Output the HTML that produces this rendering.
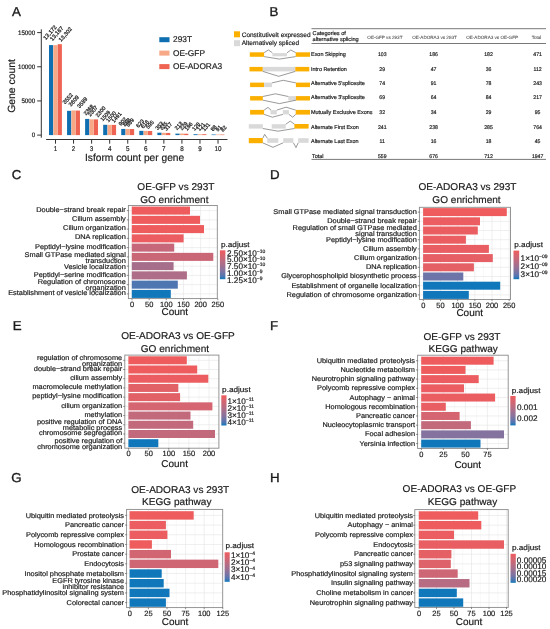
<!DOCTYPE html>
<html><head><meta charset="utf-8"><style>
html,body{margin:0;padding:0;background:#fff;}
svg{display:block;will-change:transform;}
text{font-family:"Liberation Sans", sans-serif;text-rendering:geometricPrecision;}
</style></head><body>
<svg width="550" height="629" viewBox="0 0 550 629" font-family='"Liberation Sans", sans-serif'>
<rect width="550" height="629" fill="#fff"/>
<text transform="translate(12.00,16.00) scale(1.03,1)" font-size="12.9" text-anchor="start" fill="#1a1a1a" stroke="#1a1a1a" stroke-width="0.35">A</text>
<text transform="translate(269.50,16.00) scale(1.03,1)" font-size="12.9" text-anchor="start" fill="#1a1a1a" stroke="#1a1a1a" stroke-width="0.35">B</text>
<text transform="translate(11.80,179.10) scale(1.03,1)" font-size="12.9" text-anchor="start" fill="#1a1a1a" stroke="#1a1a1a" stroke-width="0.35">C</text>
<text transform="translate(270.00,179.10) scale(1.03,1)" font-size="12.9" text-anchor="start" fill="#1a1a1a" stroke="#1a1a1a" stroke-width="0.35">D</text>
<text transform="translate(12.70,330.40) scale(1.03,1)" font-size="12.9" text-anchor="start" fill="#1a1a1a" stroke="#1a1a1a" stroke-width="0.35">E</text>
<text transform="translate(270.00,330.40) scale(1.03,1)" font-size="12.9" text-anchor="start" fill="#1a1a1a" stroke="#1a1a1a" stroke-width="0.35">F</text>
<text transform="translate(11.30,482.00) scale(1.03,1)" font-size="12.9" text-anchor="start" fill="#1a1a1a" stroke="#1a1a1a" stroke-width="0.35">G</text>
<text transform="translate(270.00,481.70) scale(1.03,1)" font-size="12.9" text-anchor="start" fill="#1a1a1a" stroke="#1a1a1a" stroke-width="0.35">H</text>
<line x1="41.30" y1="29.30" x2="41.30" y2="137.70" stroke="#333" stroke-width="1.0"/>
<line x1="37.20" y1="135.10" x2="41.30" y2="135.10" stroke="#333" stroke-width="1.0"/>
<text transform="translate(35.20,137.40) scale(0.97,1)" font-size="6.4" text-anchor="end" fill="#1a1a1a" stroke="#1a1a1a" stroke-width="0.18">0</text>
<line x1="37.20" y1="100.93" x2="41.30" y2="100.93" stroke="#333" stroke-width="1.0"/>
<text transform="translate(35.20,103.23) scale(0.97,1)" font-size="6.4" text-anchor="end" fill="#1a1a1a" stroke="#1a1a1a" stroke-width="0.18">5000</text>
<line x1="37.20" y1="66.77" x2="41.30" y2="66.77" stroke="#333" stroke-width="1.0"/>
<text transform="translate(35.20,69.07) scale(0.97,1)" font-size="6.4" text-anchor="end" fill="#1a1a1a" stroke="#1a1a1a" stroke-width="0.18">10000</text>
<line x1="37.20" y1="32.60" x2="41.30" y2="32.60" stroke="#333" stroke-width="1.0"/>
<text transform="translate(35.20,34.90) scale(0.97,1)" font-size="6.4" text-anchor="end" fill="#1a1a1a" stroke="#1a1a1a" stroke-width="0.18">15000</text>
<text transform="translate(14.70,86.00) rotate(-90)" font-size="10.4" text-anchor="middle" fill="#1a1a1a" stroke="#1a1a1a" stroke-width="0.18">Gene count</text>
<line x1="46.10" y1="139.50" x2="227.50" y2="139.50" stroke="#333" stroke-width="1.0"/>
<text transform="translate(134.60,160.90) scale(0.99,1)" font-size="10.3" text-anchor="middle" fill="#1a1a1a" stroke="#1a1a1a" stroke-width="0.18">Isform count per gene</text>
<line x1="55.50" y1="139.50" x2="55.50" y2="143.70" stroke="#333" stroke-width="1.0"/>
<text transform="translate(55.50,150.60) scale(0.9,1)" font-size="7.0" text-anchor="middle" fill="#1a1a1a" stroke="#1a1a1a" stroke-width="0.18">1</text>
<rect x="49.00" y="45.09" width="4.20" height="90.01" fill="#0f6fb0"/>
<text transform="translate(45.80,40.20) rotate(-49)" font-size="5.6" text-anchor="start" fill="#222" stroke="#222" stroke-width="0.25">13,172</text>
<rect x="53.35" y="45.13" width="4.20" height="89.97" fill="#f7a887"/>
<text transform="translate(52.50,41.20) rotate(-49)" font-size="5.6" text-anchor="start" fill="#222" stroke="#222" stroke-width="0.25">13,167</text>
<rect x="57.70" y="44.20" width="4.20" height="90.90" fill="#ee6352"/>
<text transform="translate(61.10,42.10) rotate(-49)" font-size="5.6" text-anchor="start" fill="#222" stroke="#222" stroke-width="0.25">13,302</text>
<line x1="73.56" y1="139.50" x2="73.56" y2="143.70" stroke="#333" stroke-width="1.0"/>
<text transform="translate(73.56,150.60) scale(0.9,1)" font-size="7.0" text-anchor="middle" fill="#1a1a1a" stroke="#1a1a1a" stroke-width="0.18">2</text>
<rect x="67.06" y="110.83" width="4.20" height="24.27" fill="#0f6fb0"/>
<text transform="translate(65.10,104.60) rotate(-49)" font-size="5.6" text-anchor="start" fill="#222" stroke="#222" stroke-width="0.25">3552</text>
<rect x="71.41" y="110.44" width="4.20" height="24.66" fill="#f7a887"/>
<text transform="translate(71.10,106.80) rotate(-49)" font-size="5.6" text-anchor="start" fill="#222" stroke="#222" stroke-width="0.25">3609</text>
<rect x="75.76" y="110.58" width="4.20" height="24.52" fill="#ee6352"/>
<text transform="translate(79.60,108.50) rotate(-49)" font-size="5.6" text-anchor="start" fill="#222" stroke="#222" stroke-width="0.25">3589</text>
<line x1="91.62" y1="139.50" x2="91.62" y2="143.70" stroke="#333" stroke-width="1.0"/>
<text transform="translate(91.62,150.60) scale(0.9,1)" font-size="7.0" text-anchor="middle" fill="#1a1a1a" stroke="#1a1a1a" stroke-width="0.18">3</text>
<rect x="85.12" y="118.92" width="4.20" height="16.18" fill="#0f6fb0"/>
<text transform="translate(86.10,115.50) rotate(-49)" font-size="5.4" text-anchor="start" fill="#222" stroke="#222" stroke-width="0.25">2368</text>
<rect x="89.47" y="119.34" width="4.20" height="15.76" fill="#f7a887"/>
<text transform="translate(90.20,116.80) rotate(-49)" font-size="5.4" text-anchor="start" fill="#222" stroke="#222" stroke-width="0.25">2307</text>
<rect x="93.82" y="119.38" width="4.20" height="15.72" fill="#ee6352"/>
<text transform="translate(98.10,117.40) rotate(-49)" font-size="5.4" text-anchor="start" fill="#222" stroke="#222" stroke-width="0.25">2300</text>
<line x1="109.68" y1="139.50" x2="109.68" y2="143.70" stroke="#333" stroke-width="1.0"/>
<text transform="translate(109.68,150.60) scale(0.9,1)" font-size="7.0" text-anchor="middle" fill="#1a1a1a" stroke="#1a1a1a" stroke-width="0.18">4</text>
<rect x="103.18" y="124.79" width="4.20" height="10.31" fill="#0f6fb0"/>
<text transform="translate(102.80,121.60) rotate(-49)" font-size="5.4" text-anchor="start" fill="#222" stroke="#222" stroke-width="0.25">1509</text>
<rect x="107.53" y="124.85" width="4.20" height="10.25" fill="#f7a887"/>
<text transform="translate(108.60,122.40) rotate(-49)" font-size="5.4" text-anchor="start" fill="#222" stroke="#222" stroke-width="0.25">1500</text>
<rect x="111.88" y="124.91" width="4.20" height="10.19" fill="#ee6352"/>
<text transform="translate(114.10,123.10) rotate(-49)" font-size="5.4" text-anchor="start" fill="#222" stroke="#222" stroke-width="0.25">1491</text>
<line x1="127.74" y1="139.50" x2="127.74" y2="143.70" stroke="#333" stroke-width="1.0"/>
<text transform="translate(127.74,150.60) scale(0.9,1)" font-size="7.0" text-anchor="middle" fill="#1a1a1a" stroke="#1a1a1a" stroke-width="0.18">5</text>
<rect x="121.24" y="128.94" width="4.20" height="6.16" fill="#0f6fb0"/>
<text transform="translate(121.00,126.00) rotate(-49)" font-size="5.4" text-anchor="start" fill="#222" stroke="#222" stroke-width="0.25">902</text>
<rect x="125.59" y="128.96" width="4.20" height="6.14" fill="#f7a887"/>
<text transform="translate(125.00,126.70) rotate(-49)" font-size="5.4" text-anchor="start" fill="#222" stroke="#222" stroke-width="0.25">898</text>
<rect x="129.94" y="129.03" width="4.20" height="6.07" fill="#ee6352"/>
<text transform="translate(128.60,127.10) rotate(-49)" font-size="5.4" text-anchor="start" fill="#222" stroke="#222" stroke-width="0.25">889</text>
<line x1="145.80" y1="139.50" x2="145.80" y2="143.70" stroke="#333" stroke-width="1.0"/>
<text transform="translate(145.80,150.60) scale(0.9,1)" font-size="7.0" text-anchor="middle" fill="#1a1a1a" stroke="#1a1a1a" stroke-width="0.18">6</text>
<rect x="139.30" y="130.84" width="4.20" height="4.26" fill="#0f6fb0"/>
<text transform="translate(138.50,128.10) rotate(-49)" font-size="5.4" text-anchor="start" fill="#222" stroke="#222" stroke-width="0.25">623</text>
<rect x="143.65" y="130.88" width="4.20" height="4.22" fill="#f7a887"/>
<text transform="translate(143.20,128.80) rotate(-49)" font-size="5.4" text-anchor="start" fill="#222" stroke="#222" stroke-width="0.25">618</text>
<rect x="148.00" y="131.03" width="4.20" height="4.07" fill="#ee6352"/>
<text transform="translate(148.30,129.20) rotate(-49)" font-size="5.4" text-anchor="start" fill="#222" stroke="#222" stroke-width="0.25">595</text>
<line x1="163.86" y1="139.50" x2="163.86" y2="143.70" stroke="#333" stroke-width="1.0"/>
<text transform="translate(163.86,150.60) scale(0.9,1)" font-size="7.0" text-anchor="middle" fill="#1a1a1a" stroke="#1a1a1a" stroke-width="0.18">7</text>
<rect x="157.36" y="132.69" width="4.20" height="2.41" fill="#0f6fb0"/>
<text transform="translate(157.80,130.30) rotate(-49)" font-size="5.4" text-anchor="start" fill="#222" stroke="#222" stroke-width="0.25">353</text>
<rect x="161.71" y="132.81" width="4.20" height="2.29" fill="#f7a887"/>
<text transform="translate(162.10,130.60) rotate(-49)" font-size="5.4" text-anchor="start" fill="#222" stroke="#222" stroke-width="0.25">335</text>
<rect x="166.06" y="132.93" width="4.20" height="2.17" fill="#ee6352"/>
<text transform="translate(166.60,131.00) rotate(-49)" font-size="5.4" text-anchor="start" fill="#222" stroke="#222" stroke-width="0.25">317</text>
<line x1="181.92" y1="139.50" x2="181.92" y2="143.70" stroke="#333" stroke-width="1.0"/>
<text transform="translate(181.92,150.60) scale(0.9,1)" font-size="7.0" text-anchor="middle" fill="#1a1a1a" stroke="#1a1a1a" stroke-width="0.18">8</text>
<rect x="175.42" y="133.64" width="4.20" height="1.46" fill="#0f6fb0"/>
<text transform="translate(177.10,130.20) rotate(-49)" font-size="5.4" text-anchor="start" fill="#222" stroke="#222" stroke-width="0.25">213</text>
<rect x="179.77" y="133.54" width="4.20" height="1.56" fill="#f7a887"/>
<text transform="translate(182.10,130.60) rotate(-49)" font-size="5.4" text-anchor="start" fill="#222" stroke="#222" stroke-width="0.25">229</text>
<rect x="184.12" y="133.76" width="4.20" height="1.34" fill="#ee6352"/>
<text transform="translate(187.10,131.00) rotate(-49)" font-size="5.4" text-anchor="start" fill="#222" stroke="#222" stroke-width="0.25">196</text>
<line x1="199.98" y1="139.50" x2="199.98" y2="143.70" stroke="#333" stroke-width="1.0"/>
<text transform="translate(199.98,150.60) scale(0.9,1)" font-size="7.0" text-anchor="middle" fill="#1a1a1a" stroke="#1a1a1a" stroke-width="0.18">9</text>
<rect x="193.48" y="134.23" width="4.20" height="0.87" fill="#0f6fb0"/>
<text transform="translate(194.60,131.00) rotate(-49)" font-size="5.4" text-anchor="start" fill="#222" stroke="#222" stroke-width="0.25">128</text>
<rect x="197.83" y="134.27" width="4.20" height="0.83" fill="#f7a887"/>
<text transform="translate(199.60,131.30) rotate(-49)" font-size="5.4" text-anchor="start" fill="#222" stroke="#222" stroke-width="0.25">121</text>
<rect x="202.18" y="134.20" width="4.20" height="0.90" fill="#ee6352"/>
<text transform="translate(204.60,131.60) rotate(-49)" font-size="5.4" text-anchor="start" fill="#222" stroke="#222" stroke-width="0.25">131</text>
<line x1="218.04" y1="139.50" x2="218.04" y2="143.70" stroke="#333" stroke-width="1.0"/>
<text transform="translate(218.04,150.60) scale(0.9,1)" font-size="7.0" text-anchor="middle" fill="#1a1a1a" stroke="#1a1a1a" stroke-width="0.18">10</text>
<rect x="211.54" y="134.50" width="4.20" height="0.60" fill="#0f6fb0"/>
<text transform="translate(213.10,131.50) rotate(-49)" font-size="5.4" text-anchor="start" fill="#222" stroke="#222" stroke-width="0.25">88</text>
<rect x="215.89" y="134.48" width="4.20" height="0.62" fill="#f7a887"/>
<text transform="translate(218.10,131.80) rotate(-49)" font-size="5.4" text-anchor="start" fill="#222" stroke="#222" stroke-width="0.25">91</text>
<rect x="220.24" y="134.54" width="4.20" height="0.56" fill="#ee6352"/>
<text transform="translate(223.10,132.00) rotate(-49)" font-size="5.4" text-anchor="start" fill="#222" stroke="#222" stroke-width="0.25">82</text>
<rect x="159.30" y="37.20" width="10.20" height="5.00" fill="#0f6fb0"/>
<text transform="translate(173.00,42.20) scale(0.995,1)" font-size="8.4" text-anchor="start" fill="#1a1a1a" stroke="#1a1a1a" stroke-width="0.18">293T</text>
<rect x="159.30" y="50.60" width="10.20" height="5.00" fill="#f7a887"/>
<text transform="translate(173.00,55.60) scale(0.995,1)" font-size="8.4" text-anchor="start" fill="#1a1a1a" stroke="#1a1a1a" stroke-width="0.18">OE-GFP</text>
<rect x="159.30" y="64.10" width="10.20" height="5.00" fill="#ee6352"/>
<text transform="translate(173.00,69.10) scale(0.995,1)" font-size="8.4" text-anchor="start" fill="#1a1a1a" stroke="#1a1a1a" stroke-width="0.18">OE-ADORA3</text>
<rect x="234.00" y="31.30" width="6.00" height="6.00" fill="#fbb000"/>
<text transform="translate(241.70,36.60) scale(1.015,1)" font-size="6.4" text-anchor="start" fill="#1a1a1a" stroke="#1a1a1a" stroke-width="0.18">Constitutivelt expressed</text>
<rect x="234.00" y="40.20" width="6.00" height="6.00" fill="#d9d9d9"/>
<text transform="translate(241.70,45.30) scale(1.015,1)" font-size="6.4" text-anchor="start" fill="#1a1a1a" stroke="#1a1a1a" stroke-width="0.18">Alternatively spliced</text>
<line x1="311.50" y1="28.70" x2="546.00" y2="28.70" stroke="#555" stroke-width="0.8"/>
<line x1="311.50" y1="43.50" x2="546.00" y2="43.50" stroke="#555" stroke-width="0.8"/>
<line x1="311.50" y1="159.40" x2="546.00" y2="159.40" stroke="#555" stroke-width="0.8"/>
<text transform="translate(312.60,35.20)" font-size="5.6" text-anchor="start" fill="#1a1a1a" stroke="#1a1a1a" stroke-width="0.18">Categories of</text>
<text transform="translate(312.60,41.10)" font-size="5.6" text-anchor="start" fill="#1a1a1a" stroke="#1a1a1a" stroke-width="0.18">alternative splicing</text>
<text transform="translate(384.90,38.50) scale(0.98,1)" font-size="4.7" text-anchor="middle" fill="#444" stroke="#444" stroke-width="0.05">OE-GFP vs 293T</text>
<text transform="translate(434.50,38.50) scale(0.98,1)" font-size="4.7" text-anchor="middle" fill="#444" stroke="#444" stroke-width="0.05">OE-ADORA3 vs 293T</text>
<text transform="translate(492.10,38.50) scale(0.98,1)" font-size="4.7" text-anchor="middle" fill="#444" stroke="#444" stroke-width="0.05">OE-ADORA3 vs OE-GFP</text>
<text transform="translate(536.50,38.50) scale(0.98,1)" font-size="4.7" text-anchor="middle" fill="#444" stroke="#444" stroke-width="0.05">Total</text>
<text transform="translate(311.00,55.90) scale(0.975,1)" font-size="5.6" text-anchor="start" fill="#1a1a1a" stroke="#1a1a1a" stroke-width="0.18">Exon Skipping</text>
<text transform="translate(382.20,56.10) scale(0.97,1)" font-size="5.3" text-anchor="middle" fill="#1a1a1a" stroke="#1a1a1a" stroke-width="0.18">103</text>
<text transform="translate(433.60,56.10) scale(0.97,1)" font-size="5.3" text-anchor="middle" fill="#1a1a1a" stroke="#1a1a1a" stroke-width="0.18">186</text>
<text transform="translate(488.50,56.10) scale(0.97,1)" font-size="5.3" text-anchor="middle" fill="#1a1a1a" stroke="#1a1a1a" stroke-width="0.18">182</text>
<text transform="translate(537.60,56.10) scale(0.97,1)" font-size="5.3" text-anchor="middle" fill="#1a1a1a" stroke="#1a1a1a" stroke-width="0.18">471</text>
<text transform="translate(311.00,70.70) scale(0.975,1)" font-size="5.6" text-anchor="start" fill="#1a1a1a" stroke="#1a1a1a" stroke-width="0.18">Intro Retention</text>
<text transform="translate(382.20,70.90) scale(0.97,1)" font-size="5.3" text-anchor="middle" fill="#1a1a1a" stroke="#1a1a1a" stroke-width="0.18">29</text>
<text transform="translate(433.60,70.90) scale(0.97,1)" font-size="5.3" text-anchor="middle" fill="#1a1a1a" stroke="#1a1a1a" stroke-width="0.18">47</text>
<text transform="translate(488.50,70.90) scale(0.97,1)" font-size="5.3" text-anchor="middle" fill="#1a1a1a" stroke="#1a1a1a" stroke-width="0.18">36</text>
<text transform="translate(537.60,70.90) scale(0.97,1)" font-size="5.3" text-anchor="middle" fill="#1a1a1a" stroke="#1a1a1a" stroke-width="0.18">112</text>
<text transform="translate(311.00,84.60) scale(0.975,1)" font-size="5.6" text-anchor="start" fill="#1a1a1a" stroke="#1a1a1a" stroke-width="0.18">Alternative 5'splicesite</text>
<text transform="translate(382.20,84.80) scale(0.97,1)" font-size="5.3" text-anchor="middle" fill="#1a1a1a" stroke="#1a1a1a" stroke-width="0.18">74</text>
<text transform="translate(433.60,84.80) scale(0.97,1)" font-size="5.3" text-anchor="middle" fill="#1a1a1a" stroke="#1a1a1a" stroke-width="0.18">91</text>
<text transform="translate(488.50,84.80) scale(0.97,1)" font-size="5.3" text-anchor="middle" fill="#1a1a1a" stroke="#1a1a1a" stroke-width="0.18">78</text>
<text transform="translate(537.60,84.80) scale(0.97,1)" font-size="5.3" text-anchor="middle" fill="#1a1a1a" stroke="#1a1a1a" stroke-width="0.18">243</text>
<text transform="translate(311.00,98.60) scale(0.975,1)" font-size="5.6" text-anchor="start" fill="#1a1a1a" stroke="#1a1a1a" stroke-width="0.18">Alternative 3'splicesite</text>
<text transform="translate(382.20,98.80) scale(0.97,1)" font-size="5.3" text-anchor="middle" fill="#1a1a1a" stroke="#1a1a1a" stroke-width="0.18">69</text>
<text transform="translate(433.60,98.80) scale(0.97,1)" font-size="5.3" text-anchor="middle" fill="#1a1a1a" stroke="#1a1a1a" stroke-width="0.18">64</text>
<text transform="translate(488.50,98.80) scale(0.97,1)" font-size="5.3" text-anchor="middle" fill="#1a1a1a" stroke="#1a1a1a" stroke-width="0.18">84</text>
<text transform="translate(537.60,98.80) scale(0.97,1)" font-size="5.3" text-anchor="middle" fill="#1a1a1a" stroke="#1a1a1a" stroke-width="0.18">217</text>
<text transform="translate(311.00,113.90) scale(0.975,1)" font-size="5.6" text-anchor="start" fill="#1a1a1a" stroke="#1a1a1a" stroke-width="0.18">Mutually Exclusive Exons</text>
<text transform="translate(382.20,114.10) scale(0.97,1)" font-size="5.3" text-anchor="middle" fill="#1a1a1a" stroke="#1a1a1a" stroke-width="0.18">32</text>
<text transform="translate(433.60,114.10) scale(0.97,1)" font-size="5.3" text-anchor="middle" fill="#1a1a1a" stroke="#1a1a1a" stroke-width="0.18">34</text>
<text transform="translate(488.50,114.10) scale(0.97,1)" font-size="5.3" text-anchor="middle" fill="#1a1a1a" stroke="#1a1a1a" stroke-width="0.18">29</text>
<text transform="translate(537.60,114.10) scale(0.97,1)" font-size="5.3" text-anchor="middle" fill="#1a1a1a" stroke="#1a1a1a" stroke-width="0.18">95</text>
<text transform="translate(311.00,128.50) scale(0.975,1)" font-size="5.6" text-anchor="start" fill="#1a1a1a" stroke="#1a1a1a" stroke-width="0.18">Alternate First Exon</text>
<text transform="translate(382.20,128.70) scale(0.97,1)" font-size="5.3" text-anchor="middle" fill="#1a1a1a" stroke="#1a1a1a" stroke-width="0.18">241</text>
<text transform="translate(433.60,128.70) scale(0.97,1)" font-size="5.3" text-anchor="middle" fill="#1a1a1a" stroke="#1a1a1a" stroke-width="0.18">238</text>
<text transform="translate(488.50,128.70) scale(0.97,1)" font-size="5.3" text-anchor="middle" fill="#1a1a1a" stroke="#1a1a1a" stroke-width="0.18">285</text>
<text transform="translate(537.60,128.70) scale(0.97,1)" font-size="5.3" text-anchor="middle" fill="#1a1a1a" stroke="#1a1a1a" stroke-width="0.18">764</text>
<text transform="translate(311.00,143.00) scale(0.975,1)" font-size="5.6" text-anchor="start" fill="#1a1a1a" stroke="#1a1a1a" stroke-width="0.18">Alternate Last Exon</text>
<text transform="translate(382.20,143.20) scale(0.97,1)" font-size="5.3" text-anchor="middle" fill="#1a1a1a" stroke="#1a1a1a" stroke-width="0.18">11</text>
<text transform="translate(433.60,143.20) scale(0.97,1)" font-size="5.3" text-anchor="middle" fill="#1a1a1a" stroke="#1a1a1a" stroke-width="0.18">16</text>
<text transform="translate(488.50,143.20) scale(0.97,1)" font-size="5.3" text-anchor="middle" fill="#1a1a1a" stroke="#1a1a1a" stroke-width="0.18">18</text>
<text transform="translate(537.60,143.20) scale(0.97,1)" font-size="5.3" text-anchor="middle" fill="#1a1a1a" stroke="#1a1a1a" stroke-width="0.18">45</text>
<text transform="translate(312.00,157.70) scale(0.975,1)" font-size="5.6" text-anchor="start" fill="#1a1a1a" stroke="#1a1a1a" stroke-width="0.18">Total</text>
<text transform="translate(382.20,157.90) scale(0.97,1)" font-size="5.3" text-anchor="middle" fill="#1a1a1a" stroke="#1a1a1a" stroke-width="0.18">559</text>
<text transform="translate(433.60,157.90) scale(0.97,1)" font-size="5.3" text-anchor="middle" fill="#1a1a1a" stroke="#1a1a1a" stroke-width="0.18">676</text>
<text transform="translate(488.50,157.90) scale(0.97,1)" font-size="5.3" text-anchor="middle" fill="#1a1a1a" stroke="#1a1a1a" stroke-width="0.18">712</text>
<text transform="translate(537.60,157.90) scale(0.97,1)" font-size="5.3" text-anchor="middle" fill="#1a1a1a" stroke="#1a1a1a" stroke-width="0.18">1947</text>
<rect x="249.80" y="52.30" width="14.30" height="4.50" fill="#fbb000"/>
<rect x="272.40" y="53.10" width="14.60" height="3.20" fill="#d9d9d9"/>
<rect x="295.70" y="52.30" width="14.30" height="4.50" fill="#fbb000"/>
<path d="M264.1,52.6 L268.5,50 L272.4,52.8 M287,52.8 L290.8,50 L295.7,52.6 M264.1,56.6 L279.4,59.1 L295.7,56.6" stroke="#555" stroke-width="0.6" fill="none" stroke-linejoin="round"/>
<rect x="249.50" y="66.90" width="13.30" height="4.50" fill="#fbb000"/>
<rect x="262.80" y="66.90" width="32.50" height="4.50" fill="#d9d9d9"/>
<rect x="295.30" y="66.90" width="14.00" height="4.50" fill="#fbb000"/>
<path d="M262.8,71.4 L278.7,76.3 L295.3,71.4" stroke="#555" stroke-width="0.6" fill="none" stroke-linejoin="round"/>
<rect x="250.10" y="82.60" width="14.00" height="4.50" fill="#fbb000"/>
<rect x="264.10" y="82.60" width="7.90" height="4.50" fill="#d9d9d9"/>
<rect x="295.90" y="82.60" width="14.10" height="4.50" fill="#fbb000"/>
<path d="M272,82.9 L283.2,80.3 L295.9,82.9" stroke="#555" stroke-width="0.6" fill="none" stroke-linejoin="round"/>
<rect x="250.10" y="96.10" width="12.70" height="4.40" fill="#fbb000"/>
<rect x="288.30" y="96.10" width="7.60" height="4.40" fill="#d9d9d9"/>
<rect x="295.90" y="96.10" width="14.10" height="4.40" fill="#fbb000"/>
<path d="M262.8,96.5 L275.5,93.8 L288.3,96.5 M262.8,100.2 L279.4,103.6 L295.9,100.2" stroke="#555" stroke-width="0.6" fill="none" stroke-linejoin="round"/>
<rect x="250.10" y="109.90" width="14.00" height="4.70" fill="#fbb000"/>
<rect x="270.50" y="110.10" width="6.30" height="4.30" fill="#d9d9d9"/>
<rect x="282.90" y="110.10" width="6.00" height="4.30" fill="#d9d9d9"/>
<rect x="295.70" y="109.90" width="14.30" height="4.70" fill="#fbb000"/>
<path d="M264.1,110.1 L268,107.4 L271,110.1 M276.8,110.1 L286,107.2 L295.7,110.1 M264.1,114.4 L272.4,117.2 L282.9,114.4 M288.9,114.4 L292.7,117.2 L295.7,114.4" stroke="#555" stroke-width="0.6" fill="none" stroke-linejoin="round"/>
<rect x="248.80" y="124.20" width="14.00" height="4.40" fill="#d9d9d9"/>
<rect x="271.70" y="124.20" width="14.00" height="4.40" fill="#d9d9d9"/>
<rect x="294.40" y="124.00" width="14.20" height="4.60" fill="#fbb000"/>
<path d="M285.7,124.3 L290.2,121.1 L294.4,124.2 M262.8,128.5 L278,131.2 L294.4,128.5" stroke="#555" stroke-width="0.6" fill="none" stroke-linejoin="round"/>
<rect x="248.80" y="138.00" width="14.00" height="5.20" fill="#fbb000"/>
<rect x="267.30" y="138.20" width="11.00" height="4.60" fill="#d9d9d9"/>
<rect x="283.20" y="138.20" width="10.20" height="4.60" fill="#d9d9d9"/>
<rect x="298.20" y="138.20" width="10.40" height="4.60" fill="#d9d9d9"/>
<path d="M262.8,138.1 L264.7,134.4 L267.3,138.2 M262.8,142.9 L273,147.3 L283.2,142.8 M293.4,142.8 L296,147.6 L298.2,142.8" stroke="#555" stroke-width="0.6" fill="none" stroke-linejoin="round"/>
<rect x="128.40" y="205.50" width="88.90" height="93.10" fill="#ffffff"/>
<line x1="140.58" y1="205.50" x2="140.58" y2="298.60" stroke="#f1f1f1" stroke-width="0.5"/>
<line x1="157.74" y1="205.50" x2="157.74" y2="298.60" stroke="#f1f1f1" stroke-width="0.5"/>
<line x1="174.90" y1="205.50" x2="174.90" y2="298.60" stroke="#f1f1f1" stroke-width="0.5"/>
<line x1="192.06" y1="205.50" x2="192.06" y2="298.60" stroke="#f1f1f1" stroke-width="0.5"/>
<line x1="209.22" y1="205.50" x2="209.22" y2="298.60" stroke="#f1f1f1" stroke-width="0.5"/>
<line x1="132.00" y1="205.50" x2="132.00" y2="298.60" stroke="#e4e4e4" stroke-width="0.6"/>
<line x1="149.16" y1="205.50" x2="149.16" y2="298.60" stroke="#e4e4e4" stroke-width="0.6"/>
<line x1="166.32" y1="205.50" x2="166.32" y2="298.60" stroke="#e4e4e4" stroke-width="0.6"/>
<line x1="183.48" y1="205.50" x2="183.48" y2="298.60" stroke="#e4e4e4" stroke-width="0.6"/>
<line x1="200.64" y1="205.50" x2="200.64" y2="298.60" stroke="#e4e4e4" stroke-width="0.6"/>
<line x1="128.40" y1="210.60" x2="217.30" y2="210.60" stroke="#e4e4e4" stroke-width="0.6"/>
<line x1="128.40" y1="219.86" x2="217.30" y2="219.86" stroke="#e4e4e4" stroke-width="0.6"/>
<line x1="128.40" y1="229.11" x2="217.30" y2="229.11" stroke="#e4e4e4" stroke-width="0.6"/>
<line x1="128.40" y1="238.37" x2="217.30" y2="238.37" stroke="#e4e4e4" stroke-width="0.6"/>
<line x1="128.40" y1="247.62" x2="217.30" y2="247.62" stroke="#e4e4e4" stroke-width="0.6"/>
<line x1="128.40" y1="256.88" x2="217.30" y2="256.88" stroke="#e4e4e4" stroke-width="0.6"/>
<line x1="128.40" y1="266.13" x2="217.30" y2="266.13" stroke="#e4e4e4" stroke-width="0.6"/>
<line x1="128.40" y1="275.39" x2="217.30" y2="275.39" stroke="#e4e4e4" stroke-width="0.6"/>
<line x1="128.40" y1="284.64" x2="217.30" y2="284.64" stroke="#e4e4e4" stroke-width="0.6"/>
<line x1="128.40" y1="293.90" x2="217.30" y2="293.90" stroke="#e4e4e4" stroke-width="0.6"/>
<rect x="131.80" y="206.57" width="58.20" height="8.05" fill="#ee5c5e"/>
<rect x="131.80" y="215.83" width="68.20" height="8.05" fill="#ee5c5e"/>
<rect x="131.80" y="225.08" width="72.20" height="8.05" fill="#ee5c5e"/>
<rect x="131.80" y="234.34" width="51.80" height="8.05" fill="#eb5d60"/>
<rect x="131.80" y="243.60" width="42.40" height="8.05" fill="#c6687a"/>
<rect x="131.80" y="252.85" width="81.50" height="8.05" fill="#ca6777"/>
<rect x="131.80" y="262.11" width="41.80" height="8.05" fill="#a76e8c"/>
<rect x="131.80" y="271.36" width="55.10" height="8.05" fill="#ae6d88"/>
<rect x="131.80" y="280.62" width="46.00" height="8.05" fill="#4e76b1"/>
<rect x="131.80" y="289.87" width="39.00" height="8.05" fill="#1077ba"/>
<rect x="128.40" y="205.50" width="88.90" height="93.10" fill="none" stroke="#8a8a8a" stroke-width="0.9"/>
<line x1="126.80" y1="210.60" x2="128.40" y2="210.60" stroke="#444" stroke-width="0.6"/>
<text transform="translate(125.80,211.60) scale(1.07,1)" font-size="6.9" text-anchor="end" fill="#1a1a1a" stroke="#1a1a1a" stroke-width="0.18">Double−strand break repair</text>
<line x1="126.80" y1="219.86" x2="128.40" y2="219.86" stroke="#444" stroke-width="0.6"/>
<text transform="translate(125.80,220.86) scale(1.07,1)" font-size="6.9" text-anchor="end" fill="#1a1a1a" stroke="#1a1a1a" stroke-width="0.18">Cilium assembly</text>
<line x1="126.80" y1="229.11" x2="128.40" y2="229.11" stroke="#444" stroke-width="0.6"/>
<text transform="translate(125.80,230.11) scale(1.07,1)" font-size="6.9" text-anchor="end" fill="#1a1a1a" stroke="#1a1a1a" stroke-width="0.18">Cilium organization</text>
<line x1="126.80" y1="238.37" x2="128.40" y2="238.37" stroke="#444" stroke-width="0.6"/>
<text transform="translate(125.80,239.37) scale(1.07,1)" font-size="6.9" text-anchor="end" fill="#1a1a1a" stroke="#1a1a1a" stroke-width="0.18">DNA replication</text>
<line x1="126.80" y1="247.62" x2="128.40" y2="247.62" stroke="#444" stroke-width="0.6"/>
<text transform="translate(125.80,248.62) scale(1.07,1)" font-size="6.9" text-anchor="end" fill="#1a1a1a" stroke="#1a1a1a" stroke-width="0.18">Peptidyl−lysine modification</text>
<line x1="126.80" y1="256.88" x2="128.40" y2="256.88" stroke="#444" stroke-width="0.6"/>
<text transform="translate(125.80,256.98) scale(1.07,1)" font-size="6.9" text-anchor="end" fill="#1a1a1a" stroke="#1a1a1a" stroke-width="0.18">Small GTPase mediated signal</text>
<text transform="translate(125.80,262.68) scale(1.07,1)" font-size="6.9" text-anchor="end" fill="#1a1a1a" stroke="#1a1a1a" stroke-width="0.18">transduction</text>
<line x1="126.80" y1="266.13" x2="128.40" y2="266.13" stroke="#444" stroke-width="0.6"/>
<text transform="translate(125.80,268.73) scale(1.07,1)" font-size="6.9" text-anchor="end" fill="#1a1a1a" stroke="#1a1a1a" stroke-width="0.18">Vesicle localization</text>
<line x1="126.80" y1="275.39" x2="128.40" y2="275.39" stroke="#444" stroke-width="0.6"/>
<text transform="translate(125.80,276.69) scale(1.07,1)" font-size="6.9" text-anchor="end" fill="#1a1a1a" stroke="#1a1a1a" stroke-width="0.18">Peptidyl−serine modification</text>
<line x1="126.80" y1="284.64" x2="128.40" y2="284.64" stroke="#444" stroke-width="0.6"/>
<text transform="translate(125.80,284.24) scale(1.07,1)" font-size="6.9" text-anchor="end" fill="#1a1a1a" stroke="#1a1a1a" stroke-width="0.18">Regulation of chromosome</text>
<text transform="translate(125.80,289.94) scale(1.07,1)" font-size="6.9" text-anchor="end" fill="#1a1a1a" stroke="#1a1a1a" stroke-width="0.18">organization</text>
<line x1="126.80" y1="293.90" x2="128.40" y2="293.90" stroke="#444" stroke-width="0.6"/>
<text transform="translate(125.80,294.90) scale(1.07,1)" font-size="6.9" text-anchor="end" fill="#1a1a1a" stroke="#1a1a1a" stroke-width="0.18">Establishment of vesicle localization</text>
<line x1="132.00" y1="298.60" x2="132.00" y2="300.20" stroke="#444" stroke-width="0.6"/>
<text transform="translate(132.00,306.70) scale(0.98,1)" font-size="7.6" text-anchor="middle" fill="#1a1a1a" stroke="#1a1a1a" stroke-width="0.18">0</text>
<line x1="149.16" y1="298.60" x2="149.16" y2="300.20" stroke="#444" stroke-width="0.6"/>
<text transform="translate(149.16,306.70) scale(0.98,1)" font-size="7.6" text-anchor="middle" fill="#1a1a1a" stroke="#1a1a1a" stroke-width="0.18">50</text>
<line x1="166.32" y1="298.60" x2="166.32" y2="300.20" stroke="#444" stroke-width="0.6"/>
<text transform="translate(166.32,306.70) scale(0.98,1)" font-size="7.6" text-anchor="middle" fill="#1a1a1a" stroke="#1a1a1a" stroke-width="0.18">100</text>
<line x1="183.48" y1="298.60" x2="183.48" y2="300.20" stroke="#444" stroke-width="0.6"/>
<text transform="translate(183.48,306.70) scale(0.98,1)" font-size="7.6" text-anchor="middle" fill="#1a1a1a" stroke="#1a1a1a" stroke-width="0.18">150</text>
<line x1="200.64" y1="298.60" x2="200.64" y2="300.20" stroke="#444" stroke-width="0.6"/>
<text transform="translate(200.64,306.70) scale(0.98,1)" font-size="7.6" text-anchor="middle" fill="#1a1a1a" stroke="#1a1a1a" stroke-width="0.18">200</text>
<line x1="217.80" y1="298.60" x2="217.80" y2="300.20" stroke="#444" stroke-width="0.6"/>
<text transform="translate(217.80,306.70) scale(0.98,1)" font-size="7.6" text-anchor="middle" fill="#1a1a1a" stroke="#1a1a1a" stroke-width="0.18">250</text>
<text transform="translate(175.90,190.00) scale(1.02,1)" font-size="9.9" text-anchor="middle" fill="#1a1a1a" stroke="#1a1a1a" stroke-width="0.18">OE-GFP vs 293T</text>
<text transform="translate(174.30,202.60) scale(1.02,1)" font-size="9.9" text-anchor="middle" fill="#1a1a1a" stroke="#1a1a1a" stroke-width="0.18">GO enrichment</text>
<text transform="translate(174.80,315.20) scale(1.01,1)" font-size="9.9" text-anchor="middle" fill="#1a1a1a" stroke="#1a1a1a" stroke-width="0.18">Count</text>
<text transform="translate(221.00,246.50) scale(1.09,1)" font-size="7.5" text-anchor="start" fill="#1a1a1a" stroke="#1a1a1a" stroke-width="0.18">p.adjust</text>
<defs><linearGradient id="cb1" x1="0" y1="0" x2="0" y2="1"><stop offset="0.00" stop-color="#ee5c5e"/><stop offset="0.10" stop-color="#e16167"/><stop offset="0.20" stop-color="#d46571"/><stop offset="0.30" stop-color="#c6687a"/><stop offset="0.40" stop-color="#b76c83"/><stop offset="0.50" stop-color="#a76e8c"/><stop offset="0.60" stop-color="#967195"/><stop offset="0.70" stop-color="#83739e"/><stop offset="0.80" stop-color="#6c74a8"/><stop offset="0.90" stop-color="#4e76b1"/><stop offset="1.00" stop-color="#1077ba"/></linearGradient></defs>
<rect x="219.90" y="250.30" width="5.50" height="28.90" fill="url(#cb1)"/>
<text transform="translate(227.00,255.70)" font-size="8.2" text-anchor="start" fill="#1a1a1a" stroke="#1a1a1a" stroke-width="0.18">2.50×10<tspan font-size="5.0" dy="-2.8">−10</tspan></text>
<text transform="translate(227.00,262.30)" font-size="8.2" text-anchor="start" fill="#1a1a1a" stroke="#1a1a1a" stroke-width="0.18">5.00×10<tspan font-size="5.0" dy="-2.8">−10</tspan></text>
<text transform="translate(227.00,268.90)" font-size="8.2" text-anchor="start" fill="#1a1a1a" stroke="#1a1a1a" stroke-width="0.18">7.50×10<tspan font-size="5.0" dy="-2.8">−10</tspan></text>
<text transform="translate(227.00,276.00)" font-size="8.2" text-anchor="start" fill="#1a1a1a" stroke="#1a1a1a" stroke-width="0.18">1.00×10<tspan font-size="5.0" dy="-2.8">−9</tspan></text>
<text transform="translate(227.00,283.00)" font-size="8.2" text-anchor="start" fill="#1a1a1a" stroke="#1a1a1a" stroke-width="0.18">1.25×10<tspan font-size="5.0" dy="-2.8">−9</tspan></text>
<rect x="419.40" y="207.30" width="91.10" height="92.20" fill="#ffffff"/>
<line x1="431.89" y1="207.30" x2="431.89" y2="299.50" stroke="#f1f1f1" stroke-width="0.5"/>
<line x1="449.06" y1="207.30" x2="449.06" y2="299.50" stroke="#f1f1f1" stroke-width="0.5"/>
<line x1="466.24" y1="207.30" x2="466.24" y2="299.50" stroke="#f1f1f1" stroke-width="0.5"/>
<line x1="483.41" y1="207.30" x2="483.41" y2="299.50" stroke="#f1f1f1" stroke-width="0.5"/>
<line x1="500.59" y1="207.30" x2="500.59" y2="299.50" stroke="#f1f1f1" stroke-width="0.5"/>
<line x1="423.30" y1="207.30" x2="423.30" y2="299.50" stroke="#e4e4e4" stroke-width="0.6"/>
<line x1="440.48" y1="207.30" x2="440.48" y2="299.50" stroke="#e4e4e4" stroke-width="0.6"/>
<line x1="457.65" y1="207.30" x2="457.65" y2="299.50" stroke="#e4e4e4" stroke-width="0.6"/>
<line x1="474.83" y1="207.30" x2="474.83" y2="299.50" stroke="#e4e4e4" stroke-width="0.6"/>
<line x1="492.00" y1="207.30" x2="492.00" y2="299.50" stroke="#e4e4e4" stroke-width="0.6"/>
<line x1="509.18" y1="207.30" x2="509.18" y2="299.50" stroke="#e4e4e4" stroke-width="0.6"/>
<line x1="419.40" y1="212.10" x2="510.50" y2="212.10" stroke="#e4e4e4" stroke-width="0.6"/>
<line x1="419.40" y1="221.30" x2="510.50" y2="221.30" stroke="#e4e4e4" stroke-width="0.6"/>
<line x1="419.40" y1="230.50" x2="510.50" y2="230.50" stroke="#e4e4e4" stroke-width="0.6"/>
<line x1="419.40" y1="239.70" x2="510.50" y2="239.70" stroke="#e4e4e4" stroke-width="0.6"/>
<line x1="419.40" y1="248.90" x2="510.50" y2="248.90" stroke="#e4e4e4" stroke-width="0.6"/>
<line x1="419.40" y1="258.10" x2="510.50" y2="258.10" stroke="#e4e4e4" stroke-width="0.6"/>
<line x1="419.40" y1="267.30" x2="510.50" y2="267.30" stroke="#e4e4e4" stroke-width="0.6"/>
<line x1="419.40" y1="276.50" x2="510.50" y2="276.50" stroke="#e4e4e4" stroke-width="0.6"/>
<line x1="419.40" y1="285.70" x2="510.50" y2="285.70" stroke="#e4e4e4" stroke-width="0.6"/>
<line x1="419.40" y1="294.90" x2="510.50" y2="294.90" stroke="#e4e4e4" stroke-width="0.6"/>
<rect x="423.10" y="208.10" width="83.70" height="8.00" fill="#ee5c5e"/>
<rect x="423.10" y="217.30" width="56.90" height="8.00" fill="#eb5d60"/>
<rect x="423.10" y="226.50" width="54.70" height="8.00" fill="#ea5e61"/>
<rect x="423.10" y="235.70" width="42.80" height="8.00" fill="#ea5e61"/>
<rect x="423.10" y="244.90" width="65.80" height="8.00" fill="#e85e63"/>
<rect x="423.10" y="254.10" width="69.70" height="8.00" fill="#e65f64"/>
<rect x="423.10" y="263.30" width="50.80" height="8.00" fill="#e46065"/>
<rect x="423.10" y="272.50" width="40.20" height="8.00" fill="#6c74a8"/>
<rect x="423.10" y="281.70" width="77.10" height="8.00" fill="#1077ba"/>
<rect x="423.10" y="290.90" width="45.70" height="8.00" fill="#1077ba"/>
<rect x="419.40" y="207.30" width="91.10" height="92.20" fill="none" stroke="#8a8a8a" stroke-width="0.9"/>
<line x1="417.80" y1="212.10" x2="419.40" y2="212.10" stroke="#444" stroke-width="0.6"/>
<text transform="translate(416.80,214.00) scale(1.07,1)" font-size="6.9" text-anchor="end" fill="#1a1a1a" stroke="#1a1a1a" stroke-width="0.18">Small GTPase mediated signal transduction</text>
<line x1="417.80" y1="221.30" x2="419.40" y2="221.30" stroke="#444" stroke-width="0.6"/>
<text transform="translate(416.80,223.20) scale(1.07,1)" font-size="6.9" text-anchor="end" fill="#1a1a1a" stroke="#1a1a1a" stroke-width="0.18">Double−strand break repair</text>
<line x1="417.80" y1="230.50" x2="419.40" y2="230.50" stroke="#444" stroke-width="0.6"/>
<text transform="translate(416.80,230.10) scale(1.07,1)" font-size="6.9" text-anchor="end" fill="#1a1a1a" stroke="#1a1a1a" stroke-width="0.18">Regulation of small GTPase mediated</text>
<text transform="translate(416.80,235.80) scale(1.07,1)" font-size="6.9" text-anchor="end" fill="#1a1a1a" stroke="#1a1a1a" stroke-width="0.18">signal transduction</text>
<line x1="417.80" y1="239.70" x2="419.40" y2="239.70" stroke="#444" stroke-width="0.6"/>
<text transform="translate(416.80,241.60) scale(1.07,1)" font-size="6.9" text-anchor="end" fill="#1a1a1a" stroke="#1a1a1a" stroke-width="0.18">Peptidyl−lysine modification</text>
<line x1="417.80" y1="248.90" x2="419.40" y2="248.90" stroke="#444" stroke-width="0.6"/>
<text transform="translate(416.80,250.80) scale(1.07,1)" font-size="6.9" text-anchor="end" fill="#1a1a1a" stroke="#1a1a1a" stroke-width="0.18">Cilium assembly</text>
<line x1="417.80" y1="258.10" x2="419.40" y2="258.10" stroke="#444" stroke-width="0.6"/>
<text transform="translate(416.80,260.00) scale(1.07,1)" font-size="6.9" text-anchor="end" fill="#1a1a1a" stroke="#1a1a1a" stroke-width="0.18">Cilium organization</text>
<line x1="417.80" y1="267.30" x2="419.40" y2="267.30" stroke="#444" stroke-width="0.6"/>
<text transform="translate(416.80,269.20) scale(1.07,1)" font-size="6.9" text-anchor="end" fill="#1a1a1a" stroke="#1a1a1a" stroke-width="0.18">DNA replication</text>
<line x1="417.80" y1="276.50" x2="419.40" y2="276.50" stroke="#444" stroke-width="0.6"/>
<text transform="translate(416.80,278.40) scale(1.07,1)" font-size="6.9" text-anchor="end" fill="#1a1a1a" stroke="#1a1a1a" stroke-width="0.18">Glycerophospholipid biosynthetic process</text>
<line x1="417.80" y1="285.70" x2="419.40" y2="285.70" stroke="#444" stroke-width="0.6"/>
<text transform="translate(416.80,287.60) scale(1.07,1)" font-size="6.9" text-anchor="end" fill="#1a1a1a" stroke="#1a1a1a" stroke-width="0.18">Establishment of organelle localization</text>
<line x1="417.80" y1="294.90" x2="419.40" y2="294.90" stroke="#444" stroke-width="0.6"/>
<text transform="translate(416.80,296.80) scale(1.07,1)" font-size="6.9" text-anchor="end" fill="#1a1a1a" stroke="#1a1a1a" stroke-width="0.18">Regulation of chromosome organization</text>
<line x1="423.30" y1="299.50" x2="423.30" y2="301.10" stroke="#444" stroke-width="0.6"/>
<text transform="translate(423.30,307.60) scale(0.98,1)" font-size="7.6" text-anchor="middle" fill="#1a1a1a" stroke="#1a1a1a" stroke-width="0.18">0</text>
<line x1="440.48" y1="299.50" x2="440.48" y2="301.10" stroke="#444" stroke-width="0.6"/>
<text transform="translate(440.48,307.60) scale(0.98,1)" font-size="7.6" text-anchor="middle" fill="#1a1a1a" stroke="#1a1a1a" stroke-width="0.18">50</text>
<line x1="457.65" y1="299.50" x2="457.65" y2="301.10" stroke="#444" stroke-width="0.6"/>
<text transform="translate(457.65,307.60) scale(0.98,1)" font-size="7.6" text-anchor="middle" fill="#1a1a1a" stroke="#1a1a1a" stroke-width="0.18">100</text>
<line x1="474.83" y1="299.50" x2="474.83" y2="301.10" stroke="#444" stroke-width="0.6"/>
<text transform="translate(474.83,307.60) scale(0.98,1)" font-size="7.6" text-anchor="middle" fill="#1a1a1a" stroke="#1a1a1a" stroke-width="0.18">150</text>
<line x1="492.00" y1="299.50" x2="492.00" y2="301.10" stroke="#444" stroke-width="0.6"/>
<text transform="translate(492.00,307.60) scale(0.98,1)" font-size="7.6" text-anchor="middle" fill="#1a1a1a" stroke="#1a1a1a" stroke-width="0.18">200</text>
<line x1="509.18" y1="299.50" x2="509.18" y2="301.10" stroke="#444" stroke-width="0.6"/>
<text transform="translate(509.18,307.60) scale(0.98,1)" font-size="7.6" text-anchor="middle" fill="#1a1a1a" stroke="#1a1a1a" stroke-width="0.18">250</text>
<text transform="translate(467.40,189.90) scale(1.02,1)" font-size="9.9" text-anchor="middle" fill="#1a1a1a" stroke="#1a1a1a" stroke-width="0.18">OE-ADORA3 vs 293T</text>
<text transform="translate(466.50,202.50) scale(1.02,1)" font-size="9.9" text-anchor="middle" fill="#1a1a1a" stroke="#1a1a1a" stroke-width="0.18">GO enrichment</text>
<text transform="translate(469.70,315.60) scale(1.01,1)" font-size="9.9" text-anchor="middle" fill="#1a1a1a" stroke="#1a1a1a" stroke-width="0.18">Count</text>
<text transform="translate(514.30,246.80) scale(1.09,1)" font-size="7.5" text-anchor="start" fill="#1a1a1a" stroke="#1a1a1a" stroke-width="0.18">p.adjust</text>
<defs><linearGradient id="cb2" x1="0" y1="0" x2="0" y2="1"><stop offset="0.00" stop-color="#ee5c5e"/><stop offset="0.10" stop-color="#e16167"/><stop offset="0.20" stop-color="#d46571"/><stop offset="0.30" stop-color="#c6687a"/><stop offset="0.40" stop-color="#b76c83"/><stop offset="0.50" stop-color="#a76e8c"/><stop offset="0.60" stop-color="#967195"/><stop offset="0.70" stop-color="#83739e"/><stop offset="0.80" stop-color="#6c74a8"/><stop offset="0.90" stop-color="#4e76b1"/><stop offset="1.00" stop-color="#1077ba"/></linearGradient></defs>
<rect x="513.50" y="250.60" width="5.70" height="28.60" fill="url(#cb2)"/>
<text transform="translate(520.60,260.70)" font-size="8.2" text-anchor="start" fill="#1a1a1a" stroke="#1a1a1a" stroke-width="0.18">1×10<tspan font-size="5.0" dy="-2.8">−09</tspan></text>
<text transform="translate(520.60,268.70)" font-size="8.2" text-anchor="start" fill="#1a1a1a" stroke="#1a1a1a" stroke-width="0.18">2×10<tspan font-size="5.0" dy="-2.8">−09</tspan></text>
<text transform="translate(520.60,276.70)" font-size="8.2" text-anchor="start" fill="#1a1a1a" stroke="#1a1a1a" stroke-width="0.18">3×10<tspan font-size="5.0" dy="-2.8">−09</tspan></text>
<rect x="124.80" y="355.10" width="94.10" height="93.10" fill="#ffffff"/>
<line x1="138.65" y1="355.10" x2="138.65" y2="448.20" stroke="#f1f1f1" stroke-width="0.5"/>
<line x1="158.75" y1="355.10" x2="158.75" y2="448.20" stroke="#f1f1f1" stroke-width="0.5"/>
<line x1="178.85" y1="355.10" x2="178.85" y2="448.20" stroke="#f1f1f1" stroke-width="0.5"/>
<line x1="198.95" y1="355.10" x2="198.95" y2="448.20" stroke="#f1f1f1" stroke-width="0.5"/>
<line x1="128.60" y1="355.10" x2="128.60" y2="448.20" stroke="#e4e4e4" stroke-width="0.6"/>
<line x1="148.70" y1="355.10" x2="148.70" y2="448.20" stroke="#e4e4e4" stroke-width="0.6"/>
<line x1="168.80" y1="355.10" x2="168.80" y2="448.20" stroke="#e4e4e4" stroke-width="0.6"/>
<line x1="188.90" y1="355.10" x2="188.90" y2="448.20" stroke="#e4e4e4" stroke-width="0.6"/>
<line x1="209.00" y1="355.10" x2="209.00" y2="448.20" stroke="#e4e4e4" stroke-width="0.6"/>
<line x1="124.80" y1="360.30" x2="218.90" y2="360.30" stroke="#e4e4e4" stroke-width="0.6"/>
<line x1="124.80" y1="369.51" x2="218.90" y2="369.51" stroke="#e4e4e4" stroke-width="0.6"/>
<line x1="124.80" y1="378.72" x2="218.90" y2="378.72" stroke="#e4e4e4" stroke-width="0.6"/>
<line x1="124.80" y1="387.93" x2="218.90" y2="387.93" stroke="#e4e4e4" stroke-width="0.6"/>
<line x1="124.80" y1="397.14" x2="218.90" y2="397.14" stroke="#e4e4e4" stroke-width="0.6"/>
<line x1="124.80" y1="406.36" x2="218.90" y2="406.36" stroke="#e4e4e4" stroke-width="0.6"/>
<line x1="124.80" y1="415.57" x2="218.90" y2="415.57" stroke="#e4e4e4" stroke-width="0.6"/>
<line x1="124.80" y1="424.78" x2="218.90" y2="424.78" stroke="#e4e4e4" stroke-width="0.6"/>
<line x1="124.80" y1="433.99" x2="218.90" y2="433.99" stroke="#e4e4e4" stroke-width="0.6"/>
<line x1="124.80" y1="443.20" x2="218.90" y2="443.20" stroke="#e4e4e4" stroke-width="0.6"/>
<rect x="128.40" y="356.29" width="58.40" height="8.01" fill="#ee5c5e"/>
<rect x="128.40" y="365.50" width="68.80" height="8.01" fill="#ee5c5e"/>
<rect x="128.40" y="374.72" width="79.90" height="8.01" fill="#eb5d60"/>
<rect x="128.40" y="383.93" width="49.90" height="8.01" fill="#e16167"/>
<rect x="128.40" y="393.14" width="51.70" height="8.01" fill="#e16167"/>
<rect x="128.40" y="402.35" width="84.00" height="8.01" fill="#d46571"/>
<rect x="128.40" y="411.56" width="62.10" height="8.01" fill="#c3697c"/>
<rect x="128.40" y="420.77" width="64.80" height="8.01" fill="#c3697c"/>
<rect x="128.40" y="429.98" width="86.60" height="8.01" fill="#c3697c"/>
<rect x="128.40" y="439.19" width="29.90" height="8.01" fill="#1077ba"/>
<rect x="124.80" y="355.10" width="94.10" height="93.10" fill="none" stroke="#8a8a8a" stroke-width="0.9"/>
<line x1="123.20" y1="360.30" x2="124.80" y2="360.30" stroke="#444" stroke-width="0.6"/>
<text transform="translate(122.20,359.90) scale(1.07,1)" font-size="6.9" text-anchor="end" fill="#1a1a1a" stroke="#1a1a1a" stroke-width="0.18">regulation of chromosome</text>
<text transform="translate(122.20,365.60) scale(1.07,1)" font-size="6.9" text-anchor="end" fill="#1a1a1a" stroke="#1a1a1a" stroke-width="0.18">organization</text>
<line x1="123.20" y1="369.51" x2="124.80" y2="369.51" stroke="#444" stroke-width="0.6"/>
<text transform="translate(122.20,370.81) scale(1.07,1)" font-size="6.9" text-anchor="end" fill="#1a1a1a" stroke="#1a1a1a" stroke-width="0.18">double−strand break repair</text>
<line x1="123.20" y1="378.72" x2="124.80" y2="378.72" stroke="#444" stroke-width="0.6"/>
<text transform="translate(122.20,380.02) scale(1.07,1)" font-size="6.9" text-anchor="end" fill="#1a1a1a" stroke="#1a1a1a" stroke-width="0.18">cilium assembly</text>
<line x1="123.20" y1="387.93" x2="124.80" y2="387.93" stroke="#444" stroke-width="0.6"/>
<text transform="translate(122.20,389.23) scale(1.07,1)" font-size="6.9" text-anchor="end" fill="#1a1a1a" stroke="#1a1a1a" stroke-width="0.18">macromolecule methylation</text>
<line x1="123.20" y1="397.14" x2="124.80" y2="397.14" stroke="#444" stroke-width="0.6"/>
<text transform="translate(122.20,398.44) scale(1.07,1)" font-size="6.9" text-anchor="end" fill="#1a1a1a" stroke="#1a1a1a" stroke-width="0.18">peptidyl−lysine modification</text>
<line x1="123.20" y1="406.36" x2="124.80" y2="406.36" stroke="#444" stroke-width="0.6"/>
<text transform="translate(122.20,407.66) scale(1.07,1)" font-size="6.9" text-anchor="end" fill="#1a1a1a" stroke="#1a1a1a" stroke-width="0.18">cilium organization</text>
<line x1="123.20" y1="415.57" x2="124.80" y2="415.57" stroke="#444" stroke-width="0.6"/>
<text transform="translate(122.20,416.87) scale(1.07,1)" font-size="6.9" text-anchor="end" fill="#1a1a1a" stroke="#1a1a1a" stroke-width="0.18">methylation</text>
<line x1="123.20" y1="424.78" x2="124.80" y2="424.78" stroke="#444" stroke-width="0.6"/>
<text transform="translate(122.20,424.38) scale(1.07,1)" font-size="6.9" text-anchor="end" fill="#1a1a1a" stroke="#1a1a1a" stroke-width="0.18">positive regulation of DNA</text>
<text transform="translate(122.20,430.08) scale(1.07,1)" font-size="6.9" text-anchor="end" fill="#1a1a1a" stroke="#1a1a1a" stroke-width="0.18">metabolic process</text>
<line x1="123.20" y1="433.99" x2="124.80" y2="433.99" stroke="#444" stroke-width="0.6"/>
<text transform="translate(122.20,435.29) scale(1.07,1)" font-size="6.9" text-anchor="end" fill="#1a1a1a" stroke="#1a1a1a" stroke-width="0.18">chromosome segregation</text>
<line x1="123.20" y1="443.20" x2="124.80" y2="443.20" stroke="#444" stroke-width="0.6"/>
<text transform="translate(122.20,442.80) scale(1.07,1)" font-size="6.9" text-anchor="end" fill="#1a1a1a" stroke="#1a1a1a" stroke-width="0.18">positive regulation of</text>
<text transform="translate(122.20,448.50) scale(1.07,1)" font-size="6.9" text-anchor="end" fill="#1a1a1a" stroke="#1a1a1a" stroke-width="0.18">chromosome organization</text>
<line x1="128.60" y1="448.20" x2="128.60" y2="449.80" stroke="#444" stroke-width="0.6"/>
<text transform="translate(128.60,456.30) scale(0.98,1)" font-size="7.6" text-anchor="middle" fill="#1a1a1a" stroke="#1a1a1a" stroke-width="0.18">0</text>
<line x1="148.70" y1="448.20" x2="148.70" y2="449.80" stroke="#444" stroke-width="0.6"/>
<text transform="translate(148.70,456.30) scale(0.98,1)" font-size="7.6" text-anchor="middle" fill="#1a1a1a" stroke="#1a1a1a" stroke-width="0.18">50</text>
<line x1="168.80" y1="448.20" x2="168.80" y2="449.80" stroke="#444" stroke-width="0.6"/>
<text transform="translate(168.80,456.30) scale(0.98,1)" font-size="7.6" text-anchor="middle" fill="#1a1a1a" stroke="#1a1a1a" stroke-width="0.18">100</text>
<line x1="188.90" y1="448.20" x2="188.90" y2="449.80" stroke="#444" stroke-width="0.6"/>
<text transform="translate(188.90,456.30) scale(0.98,1)" font-size="7.6" text-anchor="middle" fill="#1a1a1a" stroke="#1a1a1a" stroke-width="0.18">150</text>
<line x1="209.00" y1="448.20" x2="209.00" y2="449.80" stroke="#444" stroke-width="0.6"/>
<text transform="translate(209.00,456.30) scale(0.98,1)" font-size="7.6" text-anchor="middle" fill="#1a1a1a" stroke="#1a1a1a" stroke-width="0.18">200</text>
<text transform="translate(178.00,339.30) scale(1.02,1)" font-size="9.9" text-anchor="middle" fill="#1a1a1a" stroke="#1a1a1a" stroke-width="0.18">OE-ADORA3 vs OE-GFP</text>
<text transform="translate(174.90,351.50) scale(1.02,1)" font-size="9.9" text-anchor="middle" fill="#1a1a1a" stroke="#1a1a1a" stroke-width="0.18">GO enrichment</text>
<text transform="translate(174.60,467.40) scale(1.01,1)" font-size="9.9" text-anchor="middle" fill="#1a1a1a" stroke="#1a1a1a" stroke-width="0.18">Count</text>
<text transform="translate(222.10,391.90) scale(1.09,1)" font-size="7.5" text-anchor="start" fill="#1a1a1a" stroke="#1a1a1a" stroke-width="0.18">p.adjust</text>
<defs><linearGradient id="cb3" x1="0" y1="0" x2="0" y2="1"><stop offset="0.00" stop-color="#ee5c5e"/><stop offset="0.10" stop-color="#e16167"/><stop offset="0.20" stop-color="#d46571"/><stop offset="0.30" stop-color="#c6687a"/><stop offset="0.40" stop-color="#b76c83"/><stop offset="0.50" stop-color="#a76e8c"/><stop offset="0.60" stop-color="#967195"/><stop offset="0.70" stop-color="#83739e"/><stop offset="0.80" stop-color="#6c74a8"/><stop offset="0.90" stop-color="#4e76b1"/><stop offset="1.00" stop-color="#1077ba"/></linearGradient></defs>
<rect x="221.30" y="395.30" width="5.20" height="30.20" fill="url(#cb3)"/>
<text transform="translate(227.40,403.90)" font-size="8.2" text-anchor="start" fill="#1a1a1a" stroke="#1a1a1a" stroke-width="0.18">1×10<tspan font-size="5.0" dy="-2.8">−11</tspan></text>
<text transform="translate(227.40,410.60)" font-size="8.2" text-anchor="start" fill="#1a1a1a" stroke="#1a1a1a" stroke-width="0.18">2×10<tspan font-size="5.0" dy="-2.8">−11</tspan></text>
<text transform="translate(227.40,418.20)" font-size="8.2" text-anchor="start" fill="#1a1a1a" stroke="#1a1a1a" stroke-width="0.18">3×10<tspan font-size="5.0" dy="-2.8">−11</tspan></text>
<text transform="translate(227.40,424.90)" font-size="8.2" text-anchor="start" fill="#1a1a1a" stroke="#1a1a1a" stroke-width="0.18">4×10<tspan font-size="5.0" dy="-2.8">−11</tspan></text>
<rect x="417.60" y="355.20" width="90.60" height="93.20" fill="#ffffff"/>
<line x1="432.40" y1="355.20" x2="432.40" y2="448.40" stroke="#f1f1f1" stroke-width="0.5"/>
<line x1="454.40" y1="355.20" x2="454.40" y2="448.40" stroke="#f1f1f1" stroke-width="0.5"/>
<line x1="476.40" y1="355.20" x2="476.40" y2="448.40" stroke="#f1f1f1" stroke-width="0.5"/>
<line x1="498.40" y1="355.20" x2="498.40" y2="448.40" stroke="#f1f1f1" stroke-width="0.5"/>
<line x1="421.40" y1="355.20" x2="421.40" y2="448.40" stroke="#e4e4e4" stroke-width="0.6"/>
<line x1="443.40" y1="355.20" x2="443.40" y2="448.40" stroke="#e4e4e4" stroke-width="0.6"/>
<line x1="465.40" y1="355.20" x2="465.40" y2="448.40" stroke="#e4e4e4" stroke-width="0.6"/>
<line x1="487.40" y1="355.20" x2="487.40" y2="448.40" stroke="#e4e4e4" stroke-width="0.6"/>
<line x1="417.60" y1="360.70" x2="508.20" y2="360.70" stroke="#e4e4e4" stroke-width="0.6"/>
<line x1="417.60" y1="369.91" x2="508.20" y2="369.91" stroke="#e4e4e4" stroke-width="0.6"/>
<line x1="417.60" y1="379.12" x2="508.20" y2="379.12" stroke="#e4e4e4" stroke-width="0.6"/>
<line x1="417.60" y1="388.33" x2="508.20" y2="388.33" stroke="#e4e4e4" stroke-width="0.6"/>
<line x1="417.60" y1="397.54" x2="508.20" y2="397.54" stroke="#e4e4e4" stroke-width="0.6"/>
<line x1="417.60" y1="406.76" x2="508.20" y2="406.76" stroke="#e4e4e4" stroke-width="0.6"/>
<line x1="417.60" y1="415.97" x2="508.20" y2="415.97" stroke="#e4e4e4" stroke-width="0.6"/>
<line x1="417.60" y1="425.18" x2="508.20" y2="425.18" stroke="#e4e4e4" stroke-width="0.6"/>
<line x1="417.60" y1="434.39" x2="508.20" y2="434.39" stroke="#e4e4e4" stroke-width="0.6"/>
<line x1="417.60" y1="443.60" x2="508.20" y2="443.60" stroke="#e4e4e4" stroke-width="0.6"/>
<rect x="421.20" y="356.69" width="72.40" height="8.01" fill="#ee5c5e"/>
<rect x="421.20" y="365.90" width="44.30" height="8.01" fill="#ee5c5e"/>
<rect x="421.20" y="375.12" width="57.50" height="8.01" fill="#eb5d60"/>
<rect x="421.20" y="384.33" width="42.80" height="8.01" fill="#eb5d60"/>
<rect x="421.20" y="393.54" width="73.90" height="8.01" fill="#ea5e61"/>
<rect x="421.20" y="402.75" width="24.60" height="8.01" fill="#e85e63"/>
<rect x="421.20" y="411.96" width="38.40" height="8.01" fill="#d46571"/>
<rect x="421.20" y="421.17" width="49.70" height="8.01" fill="#c3697c"/>
<rect x="421.20" y="430.38" width="82.80" height="8.01" fill="#83739e"/>
<rect x="421.20" y="439.59" width="59.30" height="8.01" fill="#1077ba"/>
<rect x="417.60" y="355.20" width="90.60" height="93.20" fill="none" stroke="#8a8a8a" stroke-width="0.9"/>
<line x1="416.00" y1="360.70" x2="417.60" y2="360.70" stroke="#444" stroke-width="0.6"/>
<text transform="translate(415.00,362.70) scale(1.07,1)" font-size="6.9" text-anchor="end" fill="#1a1a1a" stroke="#1a1a1a" stroke-width="0.18">Ubiquitin mediated proteolysis</text>
<line x1="416.00" y1="369.91" x2="417.60" y2="369.91" stroke="#444" stroke-width="0.6"/>
<text transform="translate(415.00,371.91) scale(1.07,1)" font-size="6.9" text-anchor="end" fill="#1a1a1a" stroke="#1a1a1a" stroke-width="0.18">Nucleotide metabolism</text>
<line x1="416.00" y1="379.12" x2="417.60" y2="379.12" stroke="#444" stroke-width="0.6"/>
<text transform="translate(415.00,381.12) scale(1.07,1)" font-size="6.9" text-anchor="end" fill="#1a1a1a" stroke="#1a1a1a" stroke-width="0.18">Neurotrophin signaling pathway</text>
<line x1="416.00" y1="388.33" x2="417.60" y2="388.33" stroke="#444" stroke-width="0.6"/>
<text transform="translate(415.00,390.33) scale(1.07,1)" font-size="6.9" text-anchor="end" fill="#1a1a1a" stroke="#1a1a1a" stroke-width="0.18">Polycomb repressive complex</text>
<line x1="416.00" y1="397.54" x2="417.60" y2="397.54" stroke="#444" stroke-width="0.6"/>
<text transform="translate(415.00,399.54) scale(1.07,1)" font-size="6.9" text-anchor="end" fill="#1a1a1a" stroke="#1a1a1a" stroke-width="0.18">Autophagy − animal</text>
<line x1="416.00" y1="406.76" x2="417.60" y2="406.76" stroke="#444" stroke-width="0.6"/>
<text transform="translate(415.00,408.76) scale(1.07,1)" font-size="6.9" text-anchor="end" fill="#1a1a1a" stroke="#1a1a1a" stroke-width="0.18">Homologous recombination</text>
<line x1="416.00" y1="415.97" x2="417.60" y2="415.97" stroke="#444" stroke-width="0.6"/>
<text transform="translate(415.00,417.97) scale(1.07,1)" font-size="6.9" text-anchor="end" fill="#1a1a1a" stroke="#1a1a1a" stroke-width="0.18">Pancreatic cancer</text>
<line x1="416.00" y1="425.18" x2="417.60" y2="425.18" stroke="#444" stroke-width="0.6"/>
<text transform="translate(415.00,427.18) scale(1.07,1)" font-size="6.9" text-anchor="end" fill="#1a1a1a" stroke="#1a1a1a" stroke-width="0.18">Nucleocytoplasmic transport</text>
<line x1="416.00" y1="434.39" x2="417.60" y2="434.39" stroke="#444" stroke-width="0.6"/>
<text transform="translate(415.00,436.39) scale(1.07,1)" font-size="6.9" text-anchor="end" fill="#1a1a1a" stroke="#1a1a1a" stroke-width="0.18">Focal adhesion</text>
<line x1="416.00" y1="443.60" x2="417.60" y2="443.60" stroke="#444" stroke-width="0.6"/>
<text transform="translate(415.00,445.60) scale(1.07,1)" font-size="6.9" text-anchor="end" fill="#1a1a1a" stroke="#1a1a1a" stroke-width="0.18">Yersinia infection</text>
<line x1="421.40" y1="448.40" x2="421.40" y2="450.00" stroke="#444" stroke-width="0.6"/>
<text transform="translate(421.40,456.50) scale(0.98,1)" font-size="7.6" text-anchor="middle" fill="#1a1a1a" stroke="#1a1a1a" stroke-width="0.18">0</text>
<line x1="443.40" y1="448.40" x2="443.40" y2="450.00" stroke="#444" stroke-width="0.6"/>
<text transform="translate(443.40,456.50) scale(0.98,1)" font-size="7.6" text-anchor="middle" fill="#1a1a1a" stroke="#1a1a1a" stroke-width="0.18">25</text>
<line x1="465.40" y1="448.40" x2="465.40" y2="450.00" stroke="#444" stroke-width="0.6"/>
<text transform="translate(465.40,456.50) scale(0.98,1)" font-size="7.6" text-anchor="middle" fill="#1a1a1a" stroke="#1a1a1a" stroke-width="0.18">50</text>
<line x1="487.40" y1="448.40" x2="487.40" y2="450.00" stroke="#444" stroke-width="0.6"/>
<text transform="translate(487.40,456.50) scale(0.98,1)" font-size="7.6" text-anchor="middle" fill="#1a1a1a" stroke="#1a1a1a" stroke-width="0.18">75</text>
<text transform="translate(462.00,339.50) scale(1.02,1)" font-size="9.9" text-anchor="middle" fill="#1a1a1a" stroke="#1a1a1a" stroke-width="0.18">OE-GFP vs 293T</text>
<text transform="translate(463.20,351.50) scale(1.02,1)" font-size="9.9" text-anchor="middle" fill="#1a1a1a" stroke="#1a1a1a" stroke-width="0.18">KEGG pathway</text>
<text transform="translate(467.70,467.60) scale(1.01,1)" font-size="9.9" text-anchor="middle" fill="#1a1a1a" stroke="#1a1a1a" stroke-width="0.18">Count</text>
<text transform="translate(511.80,392.50) scale(1.09,1)" font-size="7.5" text-anchor="start" fill="#1a1a1a" stroke="#1a1a1a" stroke-width="0.18">p.adjust</text>
<defs><linearGradient id="cb4" x1="0" y1="0" x2="0" y2="1"><stop offset="0.00" stop-color="#ee5c5e"/><stop offset="0.10" stop-color="#e16167"/><stop offset="0.20" stop-color="#d46571"/><stop offset="0.30" stop-color="#c6687a"/><stop offset="0.40" stop-color="#b76c83"/><stop offset="0.50" stop-color="#a76e8c"/><stop offset="0.60" stop-color="#967195"/><stop offset="0.70" stop-color="#83739e"/><stop offset="0.80" stop-color="#6c74a8"/><stop offset="0.90" stop-color="#4e76b1"/><stop offset="1.00" stop-color="#1077ba"/></linearGradient></defs>
<rect x="510.30" y="396.00" width="5.30" height="29.40" fill="url(#cb4)"/>
<text transform="translate(517.00,409.90)" font-size="8.2" text-anchor="start" fill="#1a1a1a" stroke="#1a1a1a" stroke-width="0.18">0.001</text>
<text transform="translate(517.00,420.70)" font-size="8.2" text-anchor="start" fill="#1a1a1a" stroke="#1a1a1a" stroke-width="0.18">0.002</text>
<rect x="126.60" y="509.40" width="96.10" height="98.20" fill="#ffffff"/>
<line x1="139.10" y1="509.40" x2="139.10" y2="607.60" stroke="#f1f1f1" stroke-width="0.5"/>
<line x1="157.70" y1="509.40" x2="157.70" y2="607.60" stroke="#f1f1f1" stroke-width="0.5"/>
<line x1="176.30" y1="509.40" x2="176.30" y2="607.60" stroke="#f1f1f1" stroke-width="0.5"/>
<line x1="194.90" y1="509.40" x2="194.90" y2="607.60" stroke="#f1f1f1" stroke-width="0.5"/>
<line x1="213.50" y1="509.40" x2="213.50" y2="607.60" stroke="#f1f1f1" stroke-width="0.5"/>
<line x1="129.80" y1="509.40" x2="129.80" y2="607.60" stroke="#e4e4e4" stroke-width="0.6"/>
<line x1="148.40" y1="509.40" x2="148.40" y2="607.60" stroke="#e4e4e4" stroke-width="0.6"/>
<line x1="167.00" y1="509.40" x2="167.00" y2="607.60" stroke="#e4e4e4" stroke-width="0.6"/>
<line x1="185.60" y1="509.40" x2="185.60" y2="607.60" stroke="#e4e4e4" stroke-width="0.6"/>
<line x1="204.20" y1="509.40" x2="204.20" y2="607.60" stroke="#e4e4e4" stroke-width="0.6"/>
<line x1="126.60" y1="515.40" x2="222.70" y2="515.40" stroke="#e4e4e4" stroke-width="0.6"/>
<line x1="126.60" y1="525.09" x2="222.70" y2="525.09" stroke="#e4e4e4" stroke-width="0.6"/>
<line x1="126.60" y1="534.78" x2="222.70" y2="534.78" stroke="#e4e4e4" stroke-width="0.6"/>
<line x1="126.60" y1="544.47" x2="222.70" y2="544.47" stroke="#e4e4e4" stroke-width="0.6"/>
<line x1="126.60" y1="554.16" x2="222.70" y2="554.16" stroke="#e4e4e4" stroke-width="0.6"/>
<line x1="126.60" y1="563.84" x2="222.70" y2="563.84" stroke="#e4e4e4" stroke-width="0.6"/>
<line x1="126.60" y1="573.53" x2="222.70" y2="573.53" stroke="#e4e4e4" stroke-width="0.6"/>
<line x1="126.60" y1="583.22" x2="222.70" y2="583.22" stroke="#e4e4e4" stroke-width="0.6"/>
<line x1="126.60" y1="592.91" x2="222.70" y2="592.91" stroke="#e4e4e4" stroke-width="0.6"/>
<line x1="126.60" y1="602.60" x2="222.70" y2="602.60" stroke="#e4e4e4" stroke-width="0.6"/>
<rect x="129.60" y="511.19" width="64.10" height="8.43" fill="#ee5c5e"/>
<rect x="129.60" y="520.87" width="36.30" height="8.43" fill="#eb5d60"/>
<rect x="129.60" y="530.56" width="37.80" height="8.43" fill="#eb5d60"/>
<rect x="129.60" y="540.25" width="22.30" height="8.43" fill="#ee5c5e"/>
<rect x="129.60" y="549.94" width="41.40" height="8.43" fill="#d16672"/>
<rect x="129.60" y="559.63" width="88.70" height="8.43" fill="#ce6674"/>
<rect x="129.60" y="569.32" width="32.10" height="8.43" fill="#1077ba"/>
<rect x="129.60" y="579.01" width="34.10" height="8.43" fill="#1077ba"/>
<rect x="129.60" y="588.70" width="39.90" height="8.43" fill="#1077ba"/>
<rect x="129.60" y="598.39" width="36.30" height="8.43" fill="#1077ba"/>
<rect x="126.60" y="509.40" width="96.10" height="98.20" fill="none" stroke="#8a8a8a" stroke-width="0.9"/>
<line x1="125.00" y1="515.40" x2="126.60" y2="515.40" stroke="#444" stroke-width="0.6"/>
<text transform="translate(124.00,517.70) scale(1.07,1)" font-size="6.9" text-anchor="end" fill="#1a1a1a" stroke="#1a1a1a" stroke-width="0.18">Ubiquitin mediated proteolysis</text>
<line x1="125.00" y1="525.09" x2="126.60" y2="525.09" stroke="#444" stroke-width="0.6"/>
<text transform="translate(124.00,527.39) scale(1.07,1)" font-size="6.9" text-anchor="end" fill="#1a1a1a" stroke="#1a1a1a" stroke-width="0.18">Pancreatic cancer</text>
<line x1="125.00" y1="534.78" x2="126.60" y2="534.78" stroke="#444" stroke-width="0.6"/>
<text transform="translate(124.00,537.08) scale(1.07,1)" font-size="6.9" text-anchor="end" fill="#1a1a1a" stroke="#1a1a1a" stroke-width="0.18">Polycomb repressive complex</text>
<line x1="125.00" y1="544.47" x2="126.60" y2="544.47" stroke="#444" stroke-width="0.6"/>
<text transform="translate(124.00,546.77) scale(1.07,1)" font-size="6.9" text-anchor="end" fill="#1a1a1a" stroke="#1a1a1a" stroke-width="0.18">Homologous recombination</text>
<line x1="125.00" y1="554.16" x2="126.60" y2="554.16" stroke="#444" stroke-width="0.6"/>
<text transform="translate(124.00,556.46) scale(1.07,1)" font-size="6.9" text-anchor="end" fill="#1a1a1a" stroke="#1a1a1a" stroke-width="0.18">Prostate cancer</text>
<line x1="125.00" y1="563.84" x2="126.60" y2="563.84" stroke="#444" stroke-width="0.6"/>
<text transform="translate(124.00,566.14) scale(1.07,1)" font-size="6.9" text-anchor="end" fill="#1a1a1a" stroke="#1a1a1a" stroke-width="0.18">Endocytosis</text>
<line x1="125.00" y1="573.53" x2="126.60" y2="573.53" stroke="#444" stroke-width="0.6"/>
<text transform="translate(124.00,575.83) scale(1.07,1)" font-size="6.9" text-anchor="end" fill="#1a1a1a" stroke="#1a1a1a" stroke-width="0.18">Inositol phosphate metabolism</text>
<line x1="125.00" y1="583.22" x2="126.60" y2="583.22" stroke="#444" stroke-width="0.6"/>
<text transform="translate(124.00,582.82) scale(1.07,1)" font-size="6.9" text-anchor="end" fill="#1a1a1a" stroke="#1a1a1a" stroke-width="0.18">EGFR tyrosine kinase</text>
<text transform="translate(124.00,588.52) scale(1.07,1)" font-size="6.9" text-anchor="end" fill="#1a1a1a" stroke="#1a1a1a" stroke-width="0.18">inhibitor resistance</text>
<line x1="125.00" y1="592.91" x2="126.60" y2="592.91" stroke="#444" stroke-width="0.6"/>
<text transform="translate(124.00,595.21) scale(1.07,1)" font-size="6.9" text-anchor="end" fill="#1a1a1a" stroke="#1a1a1a" stroke-width="0.18">Phosphatidylinositol signaling system</text>
<line x1="125.00" y1="602.60" x2="126.60" y2="602.60" stroke="#444" stroke-width="0.6"/>
<text transform="translate(124.00,604.90) scale(1.07,1)" font-size="6.9" text-anchor="end" fill="#1a1a1a" stroke="#1a1a1a" stroke-width="0.18">Colorectal cancer</text>
<line x1="129.80" y1="607.60" x2="129.80" y2="609.20" stroke="#444" stroke-width="0.6"/>
<text transform="translate(129.80,615.70) scale(0.98,1)" font-size="7.6" text-anchor="middle" fill="#1a1a1a" stroke="#1a1a1a" stroke-width="0.18">0</text>
<line x1="148.40" y1="607.60" x2="148.40" y2="609.20" stroke="#444" stroke-width="0.6"/>
<text transform="translate(148.40,615.70) scale(0.98,1)" font-size="7.6" text-anchor="middle" fill="#1a1a1a" stroke="#1a1a1a" stroke-width="0.18">25</text>
<line x1="167.00" y1="607.60" x2="167.00" y2="609.20" stroke="#444" stroke-width="0.6"/>
<text transform="translate(167.00,615.70) scale(0.98,1)" font-size="7.6" text-anchor="middle" fill="#1a1a1a" stroke="#1a1a1a" stroke-width="0.18">50</text>
<line x1="185.60" y1="607.60" x2="185.60" y2="609.20" stroke="#444" stroke-width="0.6"/>
<text transform="translate(185.60,615.70) scale(0.98,1)" font-size="7.6" text-anchor="middle" fill="#1a1a1a" stroke="#1a1a1a" stroke-width="0.18">75</text>
<line x1="204.20" y1="607.60" x2="204.20" y2="609.20" stroke="#444" stroke-width="0.6"/>
<text transform="translate(204.20,615.70) scale(0.98,1)" font-size="7.6" text-anchor="middle" fill="#1a1a1a" stroke="#1a1a1a" stroke-width="0.18">100</text>
<line x1="222.80" y1="607.60" x2="222.80" y2="609.20" stroke="#444" stroke-width="0.6"/>
<text transform="translate(222.80,615.70) scale(0.98,1)" font-size="7.6" text-anchor="middle" fill="#1a1a1a" stroke="#1a1a1a" stroke-width="0.18">125</text>
<text transform="translate(180.20,492.60) scale(1.02,1)" font-size="9.9" text-anchor="middle" fill="#1a1a1a" stroke="#1a1a1a" stroke-width="0.18">OE-ADORA3 vs 293T</text>
<text transform="translate(176.80,504.70) scale(1.02,1)" font-size="9.9" text-anchor="middle" fill="#1a1a1a" stroke="#1a1a1a" stroke-width="0.18">KEGG pathway</text>
<text transform="translate(175.00,625.00) scale(1.01,1)" font-size="9.9" text-anchor="middle" fill="#1a1a1a" stroke="#1a1a1a" stroke-width="0.18">Count</text>
<text transform="translate(225.50,548.40) scale(1.09,1)" font-size="7.5" text-anchor="start" fill="#1a1a1a" stroke="#1a1a1a" stroke-width="0.18">p.adjust</text>
<defs><linearGradient id="cb5" x1="0" y1="0" x2="0" y2="1"><stop offset="0.00" stop-color="#ee5c5e"/><stop offset="0.10" stop-color="#e16167"/><stop offset="0.20" stop-color="#d46571"/><stop offset="0.30" stop-color="#c6687a"/><stop offset="0.40" stop-color="#b76c83"/><stop offset="0.50" stop-color="#a76e8c"/><stop offset="0.60" stop-color="#967195"/><stop offset="0.70" stop-color="#83739e"/><stop offset="0.80" stop-color="#6c74a8"/><stop offset="0.90" stop-color="#4e76b1"/><stop offset="1.00" stop-color="#1077ba"/></linearGradient></defs>
<rect x="224.60" y="552.30" width="5.10" height="29.50" fill="url(#cb5)"/>
<text transform="translate(230.90,558.00)" font-size="8.2" text-anchor="start" fill="#1a1a1a" stroke="#1a1a1a" stroke-width="0.18">1×10<tspan font-size="5.0" dy="-2.8">−4</tspan></text>
<text transform="translate(230.90,564.70)" font-size="8.2" text-anchor="start" fill="#1a1a1a" stroke="#1a1a1a" stroke-width="0.18">2×10<tspan font-size="5.0" dy="-2.8">−4</tspan></text>
<text transform="translate(230.90,572.30)" font-size="8.2" text-anchor="start" fill="#1a1a1a" stroke="#1a1a1a" stroke-width="0.18">3×10<tspan font-size="5.0" dy="-2.8">−4</tspan></text>
<text transform="translate(230.90,579.90)" font-size="8.2" text-anchor="start" fill="#1a1a1a" stroke="#1a1a1a" stroke-width="0.18">4×10<tspan font-size="5.0" dy="-2.8">−4</tspan></text>
<rect x="414.80" y="509.60" width="93.40" height="97.80" fill="#ffffff"/>
<line x1="427.75" y1="509.60" x2="427.75" y2="607.40" stroke="#f1f1f1" stroke-width="0.5"/>
<line x1="445.25" y1="509.60" x2="445.25" y2="607.40" stroke="#f1f1f1" stroke-width="0.5"/>
<line x1="462.75" y1="509.60" x2="462.75" y2="607.40" stroke="#f1f1f1" stroke-width="0.5"/>
<line x1="480.25" y1="509.60" x2="480.25" y2="607.40" stroke="#f1f1f1" stroke-width="0.5"/>
<line x1="497.75" y1="509.60" x2="497.75" y2="607.40" stroke="#f1f1f1" stroke-width="0.5"/>
<line x1="419.00" y1="509.60" x2="419.00" y2="607.40" stroke="#e4e4e4" stroke-width="0.6"/>
<line x1="436.50" y1="509.60" x2="436.50" y2="607.40" stroke="#e4e4e4" stroke-width="0.6"/>
<line x1="454.00" y1="509.60" x2="454.00" y2="607.40" stroke="#e4e4e4" stroke-width="0.6"/>
<line x1="471.50" y1="509.60" x2="471.50" y2="607.40" stroke="#e4e4e4" stroke-width="0.6"/>
<line x1="489.00" y1="509.60" x2="489.00" y2="607.40" stroke="#e4e4e4" stroke-width="0.6"/>
<line x1="506.50" y1="509.60" x2="506.50" y2="607.40" stroke="#e4e4e4" stroke-width="0.6"/>
<line x1="414.80" y1="515.50" x2="508.20" y2="515.50" stroke="#e4e4e4" stroke-width="0.6"/>
<line x1="414.80" y1="525.18" x2="508.20" y2="525.18" stroke="#e4e4e4" stroke-width="0.6"/>
<line x1="414.80" y1="534.86" x2="508.20" y2="534.86" stroke="#e4e4e4" stroke-width="0.6"/>
<line x1="414.80" y1="544.53" x2="508.20" y2="544.53" stroke="#e4e4e4" stroke-width="0.6"/>
<line x1="414.80" y1="554.21" x2="508.20" y2="554.21" stroke="#e4e4e4" stroke-width="0.6"/>
<line x1="414.80" y1="563.89" x2="508.20" y2="563.89" stroke="#e4e4e4" stroke-width="0.6"/>
<line x1="414.80" y1="573.57" x2="508.20" y2="573.57" stroke="#e4e4e4" stroke-width="0.6"/>
<line x1="414.80" y1="583.24" x2="508.20" y2="583.24" stroke="#e4e4e4" stroke-width="0.6"/>
<line x1="414.80" y1="592.92" x2="508.20" y2="592.92" stroke="#e4e4e4" stroke-width="0.6"/>
<line x1="414.80" y1="602.60" x2="508.20" y2="602.60" stroke="#e4e4e4" stroke-width="0.6"/>
<rect x="418.80" y="511.29" width="59.40" height="8.42" fill="#ee5c5e"/>
<rect x="418.80" y="520.97" width="62.50" height="8.42" fill="#ee5c5e"/>
<rect x="418.80" y="530.65" width="35.20" height="8.42" fill="#eb5d60"/>
<rect x="418.80" y="540.32" width="85.20" height="8.42" fill="#e85e63"/>
<rect x="418.80" y="550.00" width="32.60" height="8.42" fill="#e46065"/>
<rect x="418.80" y="559.68" width="32.00" height="8.42" fill="#de6269"/>
<rect x="418.80" y="569.36" width="38.90" height="8.42" fill="#cd6775"/>
<rect x="418.80" y="579.03" width="50.70" height="8.42" fill="#b76c83"/>
<rect x="418.80" y="588.71" width="38.00" height="8.42" fill="#1077ba"/>
<rect x="418.80" y="598.39" width="44.40" height="8.42" fill="#1077ba"/>
<rect x="414.80" y="509.60" width="93.40" height="97.80" fill="none" stroke="#8a8a8a" stroke-width="0.9"/>
<line x1="413.20" y1="515.50" x2="414.80" y2="515.50" stroke="#444" stroke-width="0.6"/>
<text transform="translate(413.00,517.60) scale(1.07,1)" font-size="6.9" text-anchor="end" fill="#1a1a1a" stroke="#1a1a1a" stroke-width="0.18">Ubiquitin mediated proteolysis</text>
<line x1="413.20" y1="525.18" x2="414.80" y2="525.18" stroke="#444" stroke-width="0.6"/>
<text transform="translate(413.00,527.28) scale(1.07,1)" font-size="6.9" text-anchor="end" fill="#1a1a1a" stroke="#1a1a1a" stroke-width="0.18">Autophagy − animal</text>
<line x1="413.20" y1="534.86" x2="414.80" y2="534.86" stroke="#444" stroke-width="0.6"/>
<text transform="translate(413.00,536.96) scale(1.07,1)" font-size="6.9" text-anchor="end" fill="#1a1a1a" stroke="#1a1a1a" stroke-width="0.18">Polycomb repressive complex</text>
<line x1="413.20" y1="544.53" x2="414.80" y2="544.53" stroke="#444" stroke-width="0.6"/>
<text transform="translate(413.00,546.63) scale(1.07,1)" font-size="6.9" text-anchor="end" fill="#1a1a1a" stroke="#1a1a1a" stroke-width="0.18">Endocytosis</text>
<line x1="413.20" y1="554.21" x2="414.80" y2="554.21" stroke="#444" stroke-width="0.6"/>
<text transform="translate(413.00,556.31) scale(1.07,1)" font-size="6.9" text-anchor="end" fill="#1a1a1a" stroke="#1a1a1a" stroke-width="0.18">Pancreatic cancer</text>
<line x1="413.20" y1="563.89" x2="414.80" y2="563.89" stroke="#444" stroke-width="0.6"/>
<text transform="translate(413.00,565.99) scale(1.07,1)" font-size="6.9" text-anchor="end" fill="#1a1a1a" stroke="#1a1a1a" stroke-width="0.18">p53 signaling pathway</text>
<line x1="413.20" y1="573.57" x2="414.80" y2="573.57" stroke="#444" stroke-width="0.6"/>
<text transform="translate(413.00,575.67) scale(1.07,1)" font-size="6.9" text-anchor="end" fill="#1a1a1a" stroke="#1a1a1a" stroke-width="0.18">Phosphatidylinositol signaling system</text>
<line x1="413.20" y1="583.24" x2="414.80" y2="583.24" stroke="#444" stroke-width="0.6"/>
<text transform="translate(413.00,585.34) scale(1.07,1)" font-size="6.9" text-anchor="end" fill="#1a1a1a" stroke="#1a1a1a" stroke-width="0.18">Insulin signaling pathway</text>
<line x1="413.20" y1="592.92" x2="414.80" y2="592.92" stroke="#444" stroke-width="0.6"/>
<text transform="translate(413.00,595.02) scale(1.07,1)" font-size="6.9" text-anchor="end" fill="#1a1a1a" stroke="#1a1a1a" stroke-width="0.18">Choline metabolism in cancer</text>
<line x1="413.20" y1="602.60" x2="414.80" y2="602.60" stroke="#444" stroke-width="0.6"/>
<text transform="translate(413.00,604.70) scale(1.07,1)" font-size="6.9" text-anchor="end" fill="#1a1a1a" stroke="#1a1a1a" stroke-width="0.18">Neurotrophin signaling pathway</text>
<line x1="419.00" y1="607.40" x2="419.00" y2="609.00" stroke="#444" stroke-width="0.6"/>
<text transform="translate(419.00,615.50) scale(0.98,1)" font-size="7.6" text-anchor="middle" fill="#1a1a1a" stroke="#1a1a1a" stroke-width="0.18">0</text>
<line x1="436.50" y1="607.40" x2="436.50" y2="609.00" stroke="#444" stroke-width="0.6"/>
<text transform="translate(436.50,615.50) scale(0.98,1)" font-size="7.6" text-anchor="middle" fill="#1a1a1a" stroke="#1a1a1a" stroke-width="0.18">25</text>
<line x1="454.00" y1="607.40" x2="454.00" y2="609.00" stroke="#444" stroke-width="0.6"/>
<text transform="translate(454.00,615.50) scale(0.98,1)" font-size="7.6" text-anchor="middle" fill="#1a1a1a" stroke="#1a1a1a" stroke-width="0.18">50</text>
<line x1="471.50" y1="607.40" x2="471.50" y2="609.00" stroke="#444" stroke-width="0.6"/>
<text transform="translate(471.50,615.50) scale(0.98,1)" font-size="7.6" text-anchor="middle" fill="#1a1a1a" stroke="#1a1a1a" stroke-width="0.18">75</text>
<line x1="489.00" y1="607.40" x2="489.00" y2="609.00" stroke="#444" stroke-width="0.6"/>
<text transform="translate(489.00,615.50) scale(0.98,1)" font-size="7.6" text-anchor="middle" fill="#1a1a1a" stroke="#1a1a1a" stroke-width="0.18">100</text>
<line x1="506.50" y1="607.40" x2="506.50" y2="609.00" stroke="#444" stroke-width="0.6"/>
<text transform="translate(506.50,615.50) scale(0.98,1)" font-size="7.6" text-anchor="middle" fill="#1a1a1a" stroke="#1a1a1a" stroke-width="0.18">125</text>
<text transform="translate(459.40,492.40) scale(1.02,1)" font-size="9.9" text-anchor="middle" fill="#1a1a1a" stroke="#1a1a1a" stroke-width="0.18">OE-ADORA3 vs OE-GFP</text>
<text transform="translate(462.50,504.50) scale(1.02,1)" font-size="9.9" text-anchor="middle" fill="#1a1a1a" stroke="#1a1a1a" stroke-width="0.18">KEGG pathway</text>
<text transform="translate(469.00,625.00) scale(1.01,1)" font-size="9.9" text-anchor="middle" fill="#1a1a1a" stroke="#1a1a1a" stroke-width="0.18">Count</text>
<text transform="translate(512.00,550.30) scale(1.09,1)" font-size="7.5" text-anchor="start" fill="#1a1a1a" stroke="#1a1a1a" stroke-width="0.18">p.adjust</text>
<defs><linearGradient id="cb6" x1="0" y1="0" x2="0" y2="1"><stop offset="0.00" stop-color="#ee5c5e"/><stop offset="0.10" stop-color="#e16167"/><stop offset="0.20" stop-color="#d46571"/><stop offset="0.30" stop-color="#c6687a"/><stop offset="0.40" stop-color="#b76c83"/><stop offset="0.50" stop-color="#a76e8c"/><stop offset="0.60" stop-color="#967195"/><stop offset="0.70" stop-color="#83739e"/><stop offset="0.80" stop-color="#6c74a8"/><stop offset="0.90" stop-color="#4e76b1"/><stop offset="1.00" stop-color="#1077ba"/></linearGradient></defs>
<rect x="510.50" y="553.80" width="5.30" height="29.00" fill="url(#cb6)"/>
<text transform="translate(516.80,562.70)" font-size="8.2" text-anchor="start" fill="#1a1a1a" stroke="#1a1a1a" stroke-width="0.18">0.00005</text>
<text transform="translate(516.80,569.00)" font-size="8.2" text-anchor="start" fill="#1a1a1a" stroke="#1a1a1a" stroke-width="0.18">0.00010</text>
<text transform="translate(516.80,575.50)" font-size="8.2" text-anchor="start" fill="#1a1a1a" stroke="#1a1a1a" stroke-width="0.18">0.00015</text>
<text transform="translate(516.80,582.40)" font-size="8.2" text-anchor="start" fill="#1a1a1a" stroke="#1a1a1a" stroke-width="0.18">0.00020</text>
</svg></body></html>
